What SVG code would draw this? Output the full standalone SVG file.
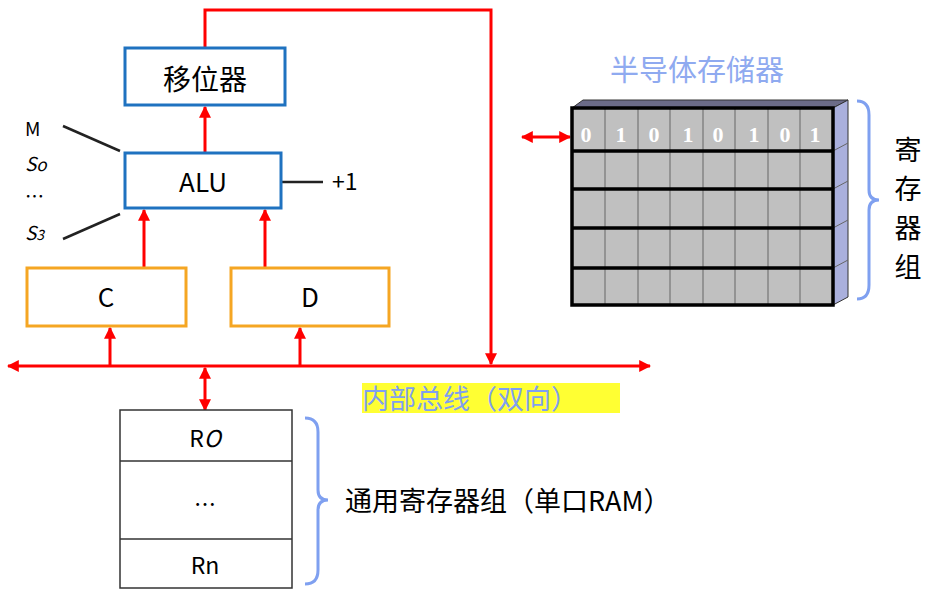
<svg xmlns="http://www.w3.org/2000/svg" width="931" height="596" viewBox="0 0 931 596">
<style>
text{font-family:"Noto Sans CJK SC","Noto Sans",sans-serif;fill:#000}
.blue{fill:#fff;stroke:#1f72c0;stroke-width:3}
.org{fill:#fff;stroke:#f5a623;stroke-width:3}
.red{stroke:#f00;stroke-width:3;fill:none}
.blk{stroke:#222;stroke-width:2.5}
.brace{fill:none;stroke:#7fa0f0;stroke-width:3}
</style>
<defs>
<marker id="ah" viewBox="0 0 10 10" refX="9" refY="5" markerWidth="4" markerHeight="4" orient="auto-start-reverse"><path d="M0,0L10,5L0,10z" fill="#f00"/></marker>
</defs>
<g id="connectors">
<line class="red" x1="8" y1="366" x2="650" y2="366" marker-start="url(#ah)" marker-end="url(#ah)"/>
<line class="red" x1="110" y1="366" x2="110" y2="328" marker-end="url(#ah)"/>
<line class="red" x1="300" y1="366" x2="300" y2="328" marker-end="url(#ah)"/>
<line class="red" x1="144" y1="268" x2="144" y2="210" marker-end="url(#ah)"/>
<line class="red" x1="265" y1="268" x2="265" y2="210" marker-end="url(#ah)"/>
<line class="red" x1="205" y1="153" x2="205" y2="107" marker-end="url(#ah)"/>
<polyline class="red" points="205,48 205,10 491,10 491,364" marker-end="url(#ah)"/>
<line class="red" x1="205" y1="368" x2="205" y2="410" marker-start="url(#ah)" marker-end="url(#ah)"/>
<line class="red" x1="522" y1="137" x2="570" y2="137" marker-start="url(#ah)" marker-end="url(#ah)"/>
<line class="blk" x1="63" y1="126" x2="120" y2="151"/>
<line class="blk" x1="63" y1="239" x2="120" y2="214"/>
<line class="blk" x1="282" y1="182" x2="323" y2="182"/>
</g>
<g id="shifter"><rect class="blue" x="125" y="48" width="160" height="57"/><text x="205" y="90" font-size="28" text-anchor="middle">移位器</text></g>
<g id="alu"><rect class="blue" x="125" y="153" width="156" height="55"/><text x="203" y="192" font-size="26" text-anchor="middle">ALU</text></g>
<g id="ctrl">
<text x="25" y="136" font-size="19">M</text>
<text x="25" y="171" font-size="19" font-style="italic">S<tspan font-size="17">o</tspan></text>
<text x="25" y="204" font-size="19">…</text>
<text x="25" y="240" font-size="19" font-style="italic">S<tspan font-size="14">3</tspan></text>
<text x="332" y="190" font-size="23">+1</text>
</g>
<g id="C"><rect class="org" x="27" y="268" width="159" height="58"/><text x="106" y="307" font-size="26" text-anchor="middle">C</text></g>
<g id="D"><rect class="org" x="231" y="268" width="158" height="58"/><text x="310" y="307" font-size="26" text-anchor="middle">D</text></g>
<g id="buslabel"><rect x="362" y="383" width="258" height="30" fill="#ffff33"/><text x="362" y="409" font-size="27" style="fill:#7fa0f0">内部总线（双向）</text></g>
<g id="regs">
<rect x="120" y="410" width="172" height="178" fill="#fff" stroke="#333" stroke-width="1.5"/>
<line x1="120" y1="461" x2="292" y2="461" stroke="#333" stroke-width="1.5"/>
<line x1="120" y1="539" x2="292" y2="539" stroke="#333" stroke-width="1.5"/>
<text x="205" y="447" font-size="23" text-anchor="middle">R<tspan font-style="italic">O</tspan></text>
<text x="205" y="512" font-size="22" text-anchor="middle">…</text>
<text x="205" y="574" font-size="23" text-anchor="middle">Rn</text>
<path class="brace" d="M305,418 Q318,418 318,432 L318,490 Q318,500 328,500 Q318,500 318,510 L318,570 Q318,584 305,584"/>
<text x="345" y="511" font-size="27">通用寄存器组（单口RAM）</text>
</g>
<g id="memory">
<text x="610" y="81" font-size="29" style="fill:#8faaf0">半导体存储器</text>
<polygon points="572,108 583,100 848,100 833,108" fill="#6b6b88" stroke="#333"/>
<polygon points="833,108 848,100 848,297 833,305" fill="#aab0dd" stroke="#333"/>
<rect x="572" y="108" width="261" height="197" fill="#c0c0c0"/>
<g stroke="#666" stroke-width="1">
<line x1="605" y1="108" x2="605" y2="305"/><line x1="638" y1="108" x2="638" y2="305"/><line x1="670" y1="108" x2="670" y2="305"/><line x1="703" y1="108" x2="703" y2="305"/><line x1="735" y1="108" x2="735" y2="305"/><line x1="768" y1="108" x2="768" y2="305"/><line x1="800" y1="108" x2="800" y2="305"/>
<line x1="833" y1="151" x2="848" y2="143"/><line x1="833" y1="189" x2="848" y2="181"/><line x1="833" y1="228" x2="848" y2="220"/><line x1="833" y1="268" x2="848" y2="260"/>
</g>
<g stroke="#000" stroke-width="3.5" fill="none">
<rect x="572" y="108" width="261" height="197"/>
<line x1="572" y1="151" x2="833" y2="151"/><line x1="572" y1="189" x2="833" y2="189"/><line x1="572" y1="228" x2="833" y2="228"/><line x1="572" y1="268" x2="833" y2="268"/>
</g>
<g font-weight="bold" font-size="22" text-anchor="middle">
<text x="586" y="142" style="fill:#fff;font-family:'Liberation Serif'">0</text><text x="621" y="142" style="fill:#fff;font-family:'Liberation Serif'">1</text><text x="654" y="142" style="fill:#fff;font-family:'Liberation Serif'">0</text><text x="688" y="142" style="fill:#fff;font-family:'Liberation Serif'">1</text><text x="718" y="142" style="fill:#fff;font-family:'Liberation Serif'">0</text><text x="754" y="142" style="fill:#fff;font-family:'Liberation Serif'">1</text><text x="785" y="142" style="fill:#fff;font-family:'Liberation Serif'">0</text><text x="815" y="142" style="fill:#fff;font-family:'Liberation Serif'">1</text>
</g>
<path class="brace" d="M857,101 Q869,101 869,115 L869,190 Q869,200 879,200 Q869,200 869,210 L869,285 Q869,299 857,299"/>
<g font-size="27" text-anchor="middle"><text x="908" y="160">寄</text><text x="908" y="199">存</text><text x="908" y="238">器</text><text x="908" y="277">组</text></g>
</g>
</svg>
